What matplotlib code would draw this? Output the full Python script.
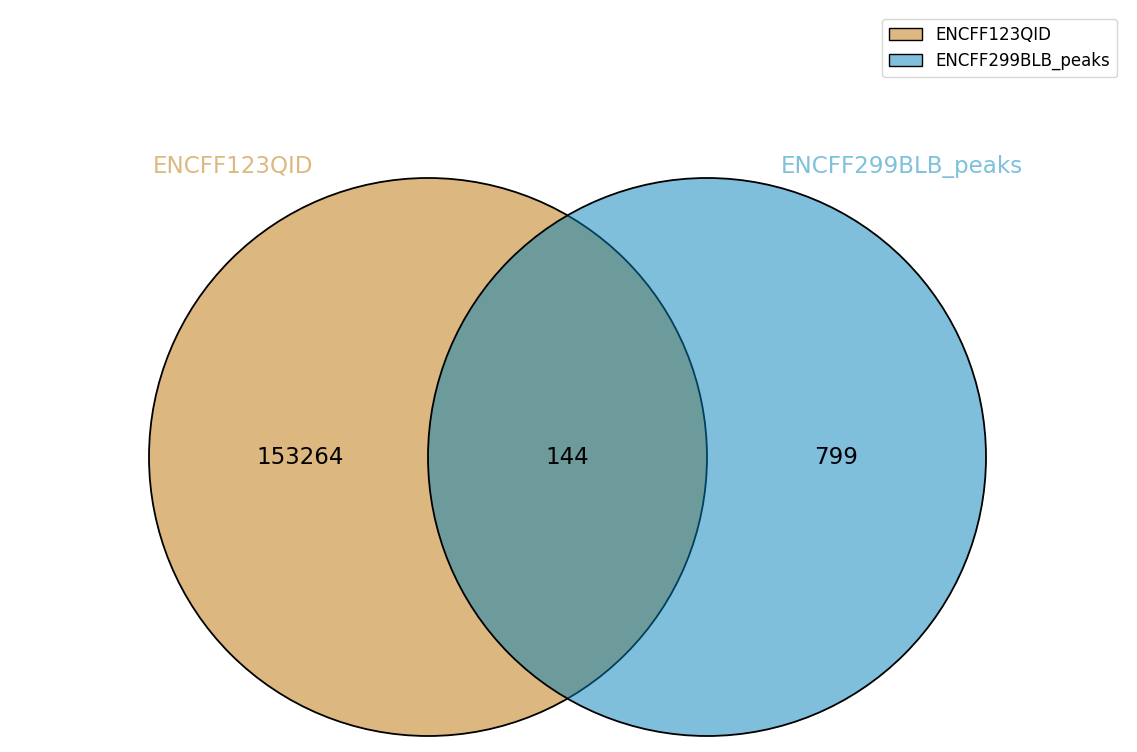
import matplotlib
matplotlib.use("Agg")
import matplotlib.pyplot as plt
from matplotlib.patches import Circle, Patch

# set names and region counts (only A, A&B, only B)
set_names = ["ENCFF123QID", "ENCFF299BLB_peaks"]
region_counts = [153264, 144, 799]
set_colors = ["#bb7103", "#0081b9"]
label_colors = ["#ddb881", "#7fc0dc"]

fig = plt.figure(figsize=(11.37, 7.52), dpi=100)
ax = fig.add_axes([0, 0, 1, 1])
ax.set_xlim(0, 1137)
ax.set_ylim(752, 0)
ax.set_aspect("equal")
ax.axis("off")

# two equal circles, centres one radius apart
r = 279
cy = 457
centres = [428, 428 + r]
for cx, col in zip(centres, set_colors):
    ax.add_patch(Circle((cx, cy), r, facecolor=matplotlib.colors.to_rgba(col, 0.5),
                        edgecolor="black", linewidth=1.3, zorder=2))

# region counts
ax.text(centres[0] - 128, cy, str(region_counts[0]), ha="center", va="center", fontsize=16.5, zorder=3)
ax.text((centres[0] + centres[1]) / 2, cy, str(region_counts[1]), ha="center", va="center", fontsize=16.5, zorder=3)
ax.text(centres[1] + 129, cy, str(region_counts[2]), ha="center", va="center", fontsize=16.5, zorder=3)

# set labels
ax.text(233, 166, set_names[0], ha="center", va="center", fontsize=16.6, color=label_colors[0])
ax.text(902, 166, set_names[1], ha="center", va="center", fontsize=16.6, color=label_colors[1])

handles = [Patch(facecolor=c, edgecolor="black", label=n) for c, n in zip(label_colors, set_names)]
fig.legend(handles=handles, loc="upper right", bbox_to_anchor=(0.9897, 0.9858), fontsize=12)

fig.savefig("out.png", dpi=100)
